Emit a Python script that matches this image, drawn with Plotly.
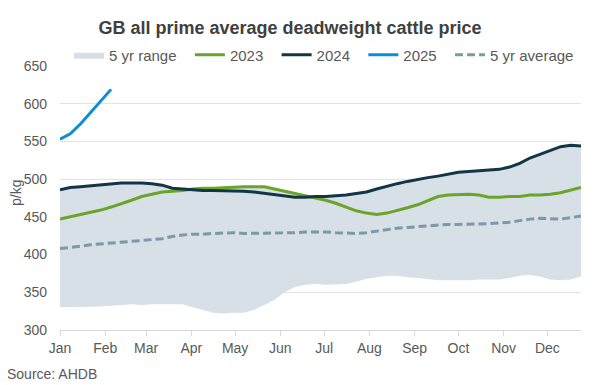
import pandas as pd
import plotly.graph_objects as go

# Weekly data (week 1 .. week 52)
weeks = pd.date_range("2023-01-01", periods=52, freq="7D")
month_labels = ["Jan", "Feb", "Mar", "Apr", "May", "Jun", "Jul", "Aug", "Sep", "Oct", "Nov", "Dec"]
month_starts = pd.date_range("2023-01-01", periods=12, freq="MS")

price_2023 = [447, 450, 452, 455, 459, 463, 467, 472, 477, 480, 483, 484, 485, 487, 488, 488,
              489, 489, 490, 490, 490, 487, 484, 481, 478, 475, 472, 468, 463, 458, 455, 453,
              455, 458, 462, 466, 472, 477, 479, 480, 480, 479, 476, 476, 477, 477, 479, 479,
              480, 482, 485, 489]
price_2024 = [486, 489, 490, 491, 492, 494, 495, 495, 495, 494, 492, 488, 487, 486, 485, 485,
              485, 485, 484, 483, 481, 479, 477, 476, 476, 477, 477, 478, 479, 481, 483, 487,
              491, 494, 497, 500, 502, 504, 507, 509, 510, 511, 512, 513, 516, 521, 528, 533,
              539, 543, 545, 544]
price_2025 = [553, 560, 573, 588, 604, 619]
avg_5yr = [408, 410, 411, 413, 414, 415, 416, 417, 418, 420, 421, 424, 426, 427, 427, 428,
           429, 429, 428, 428, 429, 429, 429, 429, 430, 430, 430, 429, 428, 428, 429, 431,
           433, 435, 436, 437, 438, 439, 440, 440, 440, 441, 441, 442, 443, 445, 447, 448,
           447, 447, 449, 451]
range_low = [330, 330, 330, 330, 331, 332, 333, 334, 333, 334, 334, 334, 334, 330, 326, 323,
             322, 323, 323, 327, 333, 340, 350, 357, 360, 361, 360, 360, 361, 364, 368, 370,
             372, 372, 370, 369, 367, 366, 366, 366, 366, 367, 367, 367, 369, 372, 373, 371,
             367, 366, 367, 371]
range_high = [486, 489, 490, 491, 492, 494, 495, 495, 495, 494, 492, 488, 487, 487, 488, 488,
              489, 489, 490, 490, 490, 487, 484, 481, 478, 477, 477, 478, 479, 481, 483, 487,
              491, 494, 497, 500, 502, 504, 507, 509, 510, 511, 512, 513, 516, 521, 528, 533,
              539, 543, 545, 544]

GREY = "#595959"
PAD = "\u00a0\u00a0"
fig = go.Figure()

fig.add_trace(go.Scatter(x=weeks, y=range_low, mode="lines", line=dict(width=0),
                         showlegend=False, hoverinfo="skip"))
fig.add_trace(go.Scatter(x=weeks, y=range_high, mode="lines", line=dict(width=0),
                         fill="tonexty", fillcolor="#d7e0e6", name="5 yr range" + PAD, legendrank=1))
fig.add_trace(go.Scatter(x=weeks, y=avg_5yr, mode="lines",
                         line=dict(color="#7d98a6", width=3, dash="8px,4px"),
                         name="5 yr average", legendrank=5))
fig.add_trace(go.Scatter(x=weeks, y=price_2023, mode="lines",
                         line=dict(color="#6aa428", width=3), name="2023" + PAD, legendrank=2))
fig.add_trace(go.Scatter(x=weeks, y=price_2024, mode="lines",
                         line=dict(color="#133548", width=3), name="2024" + PAD, legendrank=3))
fig.add_trace(go.Scatter(x=weeks[:len(price_2025)], y=price_2025, mode="lines",
                         line=dict(color="#0a8fd6", width=3), name="2025" + PAD, legendrank=4))

fig.update_layout(
    width=594, height=377,
    margin=dict(l=52, r=21, t=58, b=55, autoexpand=False),
    paper_bgcolor="white", plot_bgcolor="white",
    font=dict(family="Liberation Sans, Arial, sans-serif", color=GREY, size=14),
    title=dict(text="<b>GB all prime average deadweight cattle price</b>",
               x=0.4415, xref="paper", xanchor="center", y=0.947, yanchor="middle",
               font=dict(size=18, color="#404040")),
    legend=dict(orientation="h", x=0.0173, xanchor="left", y=1.0417, yanchor="middle",
                font=dict(size=15, color=GREY), traceorder="normal",
                itemwidth=30, tracegroupgap=0, bgcolor="rgba(0,0,0,0)"),
    showlegend=True,
)
fig.update_xaxes(
    type="date", range=[weeks[0], weeks[-1]],
    tickvals=month_starts, ticktext=month_labels,
    ticks="outside", ticklen=5, tickcolor="#d9d9d9",
    showline=True, linecolor="#d9d9d9", showgrid=False,
    tickfont=dict(size=14, color=GREY), automargin=False,
)
fig.update_yaxes(
    range=[300, 650], dtick=50, tick0=300,
    showgrid=True, gridcolor="#e3e3e3", zeroline=False,
    tickfont=dict(size=14, color=GREY), ticklabelstandoff=12, automargin=False,
)
fig.add_annotation(text="p/kg", xref="paper", yref="paper", x=-0.0845, y=0.519,
                   xanchor="center", yanchor="middle", textangle=-90, showarrow=False,
                   borderpad=0, font=dict(size=14, color=GREY))
fig.add_annotation(text="Source: AHDB", xref="paper", yref="paper",
                   x=-0.1056, xanchor="left", y=-0.1667, yanchor="middle", showarrow=False,
                   font=dict(size=14, color=GREY))

fig.write_html("out.html")
